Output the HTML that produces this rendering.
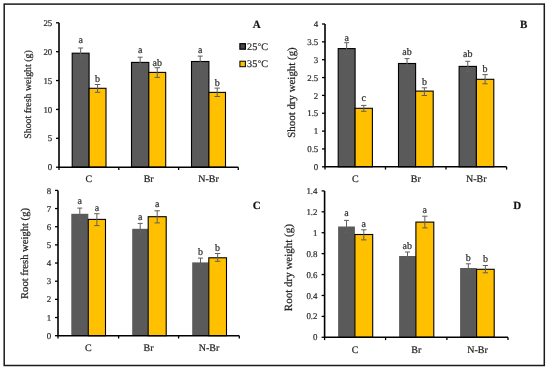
<!DOCTYPE html>
<html><head><meta charset="utf-8"><style>html,body{margin:0;padding:0;background:#fff;width:550px;height:372px;overflow:hidden}svg{display:block;will-change:transform}text{font-family:"Liberation Serif", serif;text-rendering:geometricPrecision;stroke:#2a2a2a;stroke-width:0.22px}</style></head>
<body><svg width="550" height="372" viewBox="0 0 550 372">
<rect width="550" height="372" fill="#fff"/>
<g>
<rect x="72.2" y="53.2" width="16.89999999999999" height="113.99999999999999" fill="#5a5a5a" stroke="#000" stroke-width="1.1"/>
<path d="M80.65 48V58.400000000000006M78.15 48H83.15M78.15 58.400000000000006H83.15" stroke="#5f5f5f" stroke-width="1" fill="none"/>
<rect x="89.1" y="88.3" width="16.900000000000006" height="78.89999999999999" fill="#ffc000" stroke="#000" stroke-width="1.1"/>
<path d="M97.55 84.5V92.3M94.85 84.5H100.25M94.85 92.3H100.25" stroke="#5f5f5f" stroke-width="1" fill="none"/>
<text x="80.7" y="43.3" font-size="10" text-anchor="middle" fill="#333">a</text>
<text x="97.6" y="82.2" font-size="10" text-anchor="middle" fill="#333">b</text>
<rect x="131.5" y="62.4" width="17.30000000000001" height="104.79999999999998" fill="#5a5a5a" stroke="#000" stroke-width="1.1"/>
<path d="M140.15 57.2V67.6M137.65 57.2H142.65M137.65 67.6H142.65" stroke="#5f5f5f" stroke-width="1" fill="none"/>
<rect x="148.8" y="72.4" width="16.899999999999977" height="94.79999999999998" fill="#ffc000" stroke="#000" stroke-width="1.1"/>
<path d="M157.25 67.7V77.4M154.55 67.7H159.95M154.55 77.4H159.95" stroke="#5f5f5f" stroke-width="1" fill="none"/>
<text x="140.2" y="52.8" font-size="10" text-anchor="middle" fill="#333">a</text>
<text x="157.3" y="65.6" font-size="10" text-anchor="middle" fill="#333">ab</text>
<rect x="191.5" y="61.5" width="17.400000000000006" height="105.69999999999999" fill="#5a5a5a" stroke="#000" stroke-width="1.1"/>
<path d="M200.2 56.1V66.9M197.7 56.1H202.7M197.7 66.9H202.7" stroke="#5f5f5f" stroke-width="1" fill="none"/>
<rect x="208.9" y="92.4" width="16.599999999999994" height="74.79999999999998" fill="#ffc000" stroke="#000" stroke-width="1.1"/>
<path d="M217.2 88.1V96.5M214.5 88.1H219.89999999999998M214.5 96.5H219.89999999999998" stroke="#5f5f5f" stroke-width="1" fill="none"/>
<text x="200.2" y="52.9" font-size="10" text-anchor="middle" fill="#333">a</text>
<text x="217.2" y="85.6" font-size="10" text-anchor="middle" fill="#333">b</text>
<path d="M59 22.8V167.2H238.3" stroke="#000" stroke-width="1.6" fill="none"/>
<path d="M56 167.2H59" stroke="#000" stroke-width="1.3"/>
<text x="52.3" y="170.29999999999998" font-size="8.9" text-anchor="end" fill="#333">0</text>
<path d="M56 138.32H59" stroke="#000" stroke-width="1.3"/>
<text x="52.3" y="141.42" font-size="8.9" text-anchor="end" fill="#333">5</text>
<path d="M56 109.44H59" stroke="#000" stroke-width="1.3"/>
<text x="52.3" y="112.53999999999999" font-size="8.9" text-anchor="end" fill="#333">10</text>
<path d="M56 80.56H59" stroke="#000" stroke-width="1.3"/>
<text x="52.3" y="83.66" font-size="8.9" text-anchor="end" fill="#333">15</text>
<path d="M56 51.68000000000001H59" stroke="#000" stroke-width="1.3"/>
<text x="52.3" y="54.78000000000001" font-size="8.9" text-anchor="end" fill="#333">20</text>
<path d="M56 22.80000000000001H59" stroke="#000" stroke-width="1.3"/>
<text x="52.3" y="25.900000000000013" font-size="8.9" text-anchor="end" fill="#333">25</text>
<path d="M59 167.2V170.0" stroke="#000" stroke-width="1.3"/>
<path d="M118.8 167.2V170.0" stroke="#000" stroke-width="1.3"/>
<path d="M178.6 167.2V170.0" stroke="#000" stroke-width="1.3"/>
<path d="M238.3 167.2V170.0" stroke="#000" stroke-width="1.3"/>
<text x="88.9" y="181.6" font-size="10" text-anchor="middle" fill="#222">C</text>
<text x="148.7" y="181.6" font-size="10" text-anchor="middle" fill="#222">Br</text>
<text x="208.45" y="181.6" font-size="10" text-anchor="middle" fill="#222">N-Br</text>
<text transform="translate(31.0,94.5) rotate(-90)" font-size="9.9" text-anchor="middle" fill="#222">Shoot fresh weight (g)</text>
<text x="256.7" y="27.9" font-size="11" font-weight="bold" text-anchor="middle" fill="#111">A</text>
<rect x="338.2" y="48.6" width="16.900000000000034" height="118.20000000000002" fill="#5a5a5a" stroke="#000" stroke-width="1.1"/>
<path d="M346.65 42.7V54.5M344.15 42.7H349.15M344.15 54.5H349.15" stroke="#5f5f5f" stroke-width="1" fill="none"/>
<rect x="355.1" y="108.3" width="17.299999999999955" height="58.500000000000014" fill="#ffc000" stroke="#000" stroke-width="1.1"/>
<path d="M363.75 105.4V111.3M361.05 105.4H366.45M361.05 111.3H366.45" stroke="#5f5f5f" stroke-width="1" fill="none"/>
<text x="346.7" y="40.6" font-size="10" text-anchor="middle" fill="#333">a</text>
<text x="363.8" y="101.4" font-size="10" text-anchor="middle" fill="#333">c</text>
<rect x="398.5" y="63.5" width="17.100000000000023" height="103.30000000000001" fill="#5a5a5a" stroke="#000" stroke-width="1.1"/>
<path d="M407.05 58.6V68.4M404.55 58.6H409.55M404.55 68.4H409.55" stroke="#5f5f5f" stroke-width="1" fill="none"/>
<rect x="415.6" y="91.1" width="17.599999999999966" height="75.70000000000002" fill="#ffc000" stroke="#000" stroke-width="1.1"/>
<path d="M424.4 87.8V95.5M421.7 87.8H427.09999999999997M421.7 95.5H427.09999999999997" stroke="#5f5f5f" stroke-width="1" fill="none"/>
<text x="407.1" y="55" font-size="10" text-anchor="middle" fill="#333">ab</text>
<text x="424.4" y="85.2" font-size="10" text-anchor="middle" fill="#333">b</text>
<rect x="459.1" y="66.4" width="17.299999999999955" height="100.4" fill="#5a5a5a" stroke="#000" stroke-width="1.1"/>
<path d="M467.75 61.3V71.50000000000001M465.25 61.3H470.25M465.25 71.50000000000001H470.25" stroke="#5f5f5f" stroke-width="1" fill="none"/>
<rect x="476.4" y="79.3" width="17.400000000000034" height="87.50000000000001" fill="#ffc000" stroke="#000" stroke-width="1.1"/>
<path d="M485.1 74.6V83.8M482.40000000000003 74.6H487.8M482.40000000000003 83.8H487.8" stroke="#5f5f5f" stroke-width="1" fill="none"/>
<text x="467.8" y="57.1" font-size="10" text-anchor="middle" fill="#333">ab</text>
<text x="485.1" y="72.4" font-size="10" text-anchor="middle" fill="#333">b</text>
<path d="M325 24V166.8H506.6" stroke="#000" stroke-width="1.6" fill="none"/>
<path d="M322 166.8H325" stroke="#000" stroke-width="1.3"/>
<text x="318.3" y="169.9" font-size="8.9" text-anchor="end" fill="#333">0</text>
<path d="M322 148.95000000000002H325" stroke="#000" stroke-width="1.3"/>
<text x="318.3" y="152.05" font-size="8.9" text-anchor="end" fill="#333">0.5</text>
<path d="M322 131.10000000000002H325" stroke="#000" stroke-width="1.3"/>
<text x="318.3" y="134.20000000000002" font-size="8.9" text-anchor="end" fill="#333">1</text>
<path d="M322 113.25H325" stroke="#000" stroke-width="1.3"/>
<text x="318.3" y="116.35" font-size="8.9" text-anchor="end" fill="#333">1.5</text>
<path d="M322 95.4H325" stroke="#000" stroke-width="1.3"/>
<text x="318.3" y="98.5" font-size="8.9" text-anchor="end" fill="#333">2</text>
<path d="M322 77.55000000000001H325" stroke="#000" stroke-width="1.3"/>
<text x="318.3" y="80.65" font-size="8.9" text-anchor="end" fill="#333">2.5</text>
<path d="M322 59.7H325" stroke="#000" stroke-width="1.3"/>
<text x="318.3" y="62.800000000000004" font-size="8.9" text-anchor="end" fill="#333">3</text>
<path d="M322 41.849999999999994H325" stroke="#000" stroke-width="1.3"/>
<text x="318.3" y="44.949999999999996" font-size="8.9" text-anchor="end" fill="#333">3.5</text>
<path d="M322 24.0H325" stroke="#000" stroke-width="1.3"/>
<text x="318.3" y="27.1" font-size="8.9" text-anchor="end" fill="#333">4</text>
<path d="M325 166.8V169.60000000000002" stroke="#000" stroke-width="1.3"/>
<path d="M385.5 166.8V169.60000000000002" stroke="#000" stroke-width="1.3"/>
<path d="M446 166.8V169.60000000000002" stroke="#000" stroke-width="1.3"/>
<path d="M506.6 166.8V169.60000000000002" stroke="#000" stroke-width="1.3"/>
<text x="355.25" y="181.6" font-size="10" text-anchor="middle" fill="#222">C</text>
<text x="415.75" y="181.6" font-size="10" text-anchor="middle" fill="#222">Br</text>
<text x="476.3" y="181.6" font-size="10" text-anchor="middle" fill="#222">N-Br</text>
<text transform="translate(294.8,92.5) rotate(-90)" font-size="10.9" text-anchor="middle" fill="#222">Shoot dry weight (g)</text>
<text x="523.7" y="27.9" font-size="11" font-weight="bold" text-anchor="middle" fill="#111">B</text>
<rect x="71.3" y="213.8" width="17.0" height="121.89999999999998" fill="#5a5a5a"/>
<path d="M79.8 208.1V219.50000000000003M77.3 208.1H82.3M77.3 219.50000000000003H82.3" stroke="#5f5f5f" stroke-width="1" fill="none"/>
<rect x="88.3" y="219.4" width="17.200000000000003" height="116.29999999999998" fill="#ffc000" stroke="#000" stroke-width="1.1"/>
<path d="M96.9 213.7V225.6M94.2 213.7H99.60000000000001M94.2 225.6H99.60000000000001" stroke="#5f5f5f" stroke-width="1" fill="none"/>
<text x="79.8" y="203.8" font-size="10" text-anchor="middle" fill="#333">a</text>
<text x="96.9" y="210.5" font-size="10" text-anchor="middle" fill="#333">a</text>
<rect x="132.2" y="228.8" width="16.0" height="106.89999999999998" fill="#5a5a5a"/>
<path d="M140.2 223.4V234.20000000000002M137.7 223.4H142.7M137.7 234.20000000000002H142.7" stroke="#5f5f5f" stroke-width="1" fill="none"/>
<rect x="148.2" y="216.7" width="18.0" height="119.0" fill="#ffc000" stroke="#000" stroke-width="1.1"/>
<path d="M157.2 210.8V222.9M154.5 210.8H159.89999999999998M154.5 222.9H159.89999999999998" stroke="#5f5f5f" stroke-width="1" fill="none"/>
<text x="140.2" y="219.9" font-size="10" text-anchor="middle" fill="#333">a</text>
<text x="157.2" y="206.7" font-size="10" text-anchor="middle" fill="#333">a</text>
<rect x="192.2" y="262.4" width="16.600000000000023" height="73.30000000000001" fill="#5a5a5a"/>
<path d="M200.5 258.1V266.69999999999993M198.0 258.1H203.0M198.0 266.69999999999993H203.0" stroke="#5f5f5f" stroke-width="1" fill="none"/>
<rect x="208.8" y="257.8" width="17.69999999999999" height="77.89999999999998" fill="#ffc000" stroke="#000" stroke-width="1.1"/>
<path d="M217.65 253.5V261.3M214.95000000000002 253.5H220.35M214.95000000000002 261.3H220.35" stroke="#5f5f5f" stroke-width="1" fill="none"/>
<text x="200.5" y="255.4" font-size="10" text-anchor="middle" fill="#333">b</text>
<text x="217.6" y="251.1" font-size="10" text-anchor="middle" fill="#333">b</text>
<path d="M58 190.4V335.7H239.3" stroke="#000" stroke-width="1.6" fill="none"/>
<path d="M55 335.7H58" stroke="#000" stroke-width="1.3"/>
<text x="51.2" y="338.8" font-size="8.9" text-anchor="end" fill="#333">0</text>
<path d="M55 317.53749999999997H58" stroke="#000" stroke-width="1.3"/>
<text x="51.2" y="320.6375" font-size="8.9" text-anchor="end" fill="#333">1</text>
<path d="M55 299.375H58" stroke="#000" stroke-width="1.3"/>
<text x="51.2" y="302.475" font-size="8.9" text-anchor="end" fill="#333">2</text>
<path d="M55 281.2125H58" stroke="#000" stroke-width="1.3"/>
<text x="51.2" y="284.3125" font-size="8.9" text-anchor="end" fill="#333">3</text>
<path d="M55 263.05H58" stroke="#000" stroke-width="1.3"/>
<text x="51.2" y="266.15000000000003" font-size="8.9" text-anchor="end" fill="#333">4</text>
<path d="M55 244.8875H58" stroke="#000" stroke-width="1.3"/>
<text x="51.2" y="247.98749999999998" font-size="8.9" text-anchor="end" fill="#333">5</text>
<path d="M55 226.725H58" stroke="#000" stroke-width="1.3"/>
<text x="51.2" y="229.825" font-size="8.9" text-anchor="end" fill="#333">6</text>
<path d="M55 208.5625H58" stroke="#000" stroke-width="1.3"/>
<text x="51.2" y="211.6625" font-size="8.9" text-anchor="end" fill="#333">7</text>
<path d="M55 190.4H58" stroke="#000" stroke-width="1.3"/>
<text x="51.2" y="193.5" font-size="8.9" text-anchor="end" fill="#333">8</text>
<path d="M58 335.7V338.5" stroke="#000" stroke-width="1.3"/>
<path d="M118.6 335.7V338.5" stroke="#000" stroke-width="1.3"/>
<path d="M178.6 335.7V338.5" stroke="#000" stroke-width="1.3"/>
<path d="M239.3 335.7V338.5" stroke="#000" stroke-width="1.3"/>
<text x="88.3" y="350.7" font-size="10" text-anchor="middle" fill="#222">C</text>
<text x="148.6" y="350.7" font-size="10" text-anchor="middle" fill="#222">Br</text>
<text x="208.95" y="350.7" font-size="10" text-anchor="middle" fill="#222">N-Br</text>
<text transform="translate(28.2,253.5) rotate(-90)" font-size="10.6" text-anchor="middle" fill="#222">Root fresh weight (g)</text>
<text x="256.7" y="209.2" font-size="11" font-weight="bold" text-anchor="middle" fill="#111">C</text>
<rect x="338.1" y="226.5" width="16.799999999999955" height="110.80000000000001" fill="#5a5a5a"/>
<path d="M346.5 220.4V232.6M344.0 220.4H349.0M344.0 232.6H349.0" stroke="#5f5f5f" stroke-width="1" fill="none"/>
<rect x="354.9" y="234.5" width="17.80000000000001" height="102.80000000000001" fill="#ffc000" stroke="#000" stroke-width="1.1"/>
<path d="M363.79999999999995 229.8V239.9M361.09999999999997 229.8H366.49999999999994M361.09999999999997 239.9H366.49999999999994" stroke="#5f5f5f" stroke-width="1" fill="none"/>
<text x="346.5" y="216" font-size="10" text-anchor="middle" fill="#333">a</text>
<text x="363.8" y="226.9" font-size="10" text-anchor="middle" fill="#333">a</text>
<rect x="399.1" y="256" width="16.799999999999955" height="81.30000000000001" fill="#5a5a5a"/>
<path d="M407.5 252V260M405.0 252H410.0M405.0 260H410.0" stroke="#5f5f5f" stroke-width="1" fill="none"/>
<rect x="415.9" y="222.1" width="17.900000000000034" height="115.20000000000002" fill="#ffc000" stroke="#000" stroke-width="1.1"/>
<path d="M424.85 216.2V227.9M422.15000000000003 216.2H427.55M422.15000000000003 227.9H427.55" stroke="#5f5f5f" stroke-width="1" fill="none"/>
<text x="407.3" y="249.1" font-size="10" text-anchor="middle" fill="#333">ab</text>
<text x="424.8" y="212.6" font-size="10" text-anchor="middle" fill="#333">a</text>
<rect x="460.1" y="268" width="16.5" height="69.30000000000001" fill="#5a5a5a"/>
<path d="M468.35 263.8V272.2M465.85 263.8H470.85M465.85 272.2H470.85" stroke="#5f5f5f" stroke-width="1" fill="none"/>
<rect x="476.6" y="269.3" width="17.599999999999966" height="68.0" fill="#ffc000" stroke="#000" stroke-width="1.1"/>
<path d="M485.4 265.5V272.8M482.7 265.5H488.09999999999997M482.7 272.8H488.09999999999997" stroke="#5f5f5f" stroke-width="1" fill="none"/>
<text x="468.3" y="260.5" font-size="10" text-anchor="middle" fill="#333">b</text>
<text x="485.4" y="262.4" font-size="10" text-anchor="middle" fill="#333">b</text>
<path d="M324.6 190.9V337.3H508" stroke="#000" stroke-width="1.6" fill="none"/>
<path d="M321.6 337.3H324.6" stroke="#000" stroke-width="1.3"/>
<text x="317.5" y="340.40000000000003" font-size="8.9" text-anchor="end" fill="#333">0</text>
<path d="M321.6 316.3857142857143H324.6" stroke="#000" stroke-width="1.3"/>
<text x="317.5" y="319.4857142857143" font-size="8.9" text-anchor="end" fill="#333">0.2</text>
<path d="M321.6 295.4714285714286H324.6" stroke="#000" stroke-width="1.3"/>
<text x="317.5" y="298.5714285714286" font-size="8.9" text-anchor="end" fill="#333">0.4</text>
<path d="M321.6 274.5571428571429H324.6" stroke="#000" stroke-width="1.3"/>
<text x="317.5" y="277.6571428571429" font-size="8.9" text-anchor="end" fill="#333">0.6</text>
<path d="M321.6 253.64285714285714H324.6" stroke="#000" stroke-width="1.3"/>
<text x="317.5" y="256.74285714285713" font-size="8.9" text-anchor="end" fill="#333">0.8</text>
<path d="M321.6 232.72857142857143H324.6" stroke="#000" stroke-width="1.3"/>
<text x="317.5" y="235.82857142857142" font-size="8.9" text-anchor="end" fill="#333">1</text>
<path d="M321.6 211.81428571428572H324.6" stroke="#000" stroke-width="1.3"/>
<text x="317.5" y="214.9142857142857" font-size="8.9" text-anchor="end" fill="#333">1.2</text>
<path d="M321.6 190.9H324.6" stroke="#000" stroke-width="1.3"/>
<text x="317.5" y="194.0" font-size="8.9" text-anchor="end" fill="#333">1.4</text>
<path d="M324.6 337.3V340.1" stroke="#000" stroke-width="1.3"/>
<path d="M385.6 337.3V340.1" stroke="#000" stroke-width="1.3"/>
<path d="M446.9 337.3V340.1" stroke="#000" stroke-width="1.3"/>
<path d="M508 337.3V340.1" stroke="#000" stroke-width="1.3"/>
<text x="355.1" y="352.5" font-size="10" text-anchor="middle" fill="#222">C</text>
<text x="416.25" y="352.5" font-size="10" text-anchor="middle" fill="#222">Br</text>
<text x="477.45" y="352.5" font-size="10" text-anchor="middle" fill="#222">N-Br</text>
<text transform="translate(291.6,267.6) rotate(-90)" font-size="11" text-anchor="middle" fill="#222">Root dry weight (g)</text>
<text x="517.3" y="209.2" font-size="11" font-weight="bold" text-anchor="middle" fill="#111">D</text>
<rect x="239.9" y="43.7" width="5.5" height="5.5" fill="#484848" stroke="#000" stroke-width="1.2"/>
<rect x="239.9" y="61.2" width="5.5" height="5.5" fill="#ffc000" stroke="#000" stroke-width="1"/>
<text x="247.1" y="49.8" font-size="10.2" fill="#333">25<tspan font-size="8.5" dx="0.5" dy="-1.2">°</tspan><tspan dy="1.2">C</tspan></text>
<text x="247.1" y="66.9" font-size="10.2" fill="#333">35<tspan font-size="8.5" dx="0.5" dy="-1.2">°</tspan><tspan dy="1.2">C</tspan></text>
<rect x="4.2" y="4.1" width="540.1" height="361.4" fill="none" stroke="#1a1a1a" stroke-width="1.5"/>
</g>
</svg></body></html>
